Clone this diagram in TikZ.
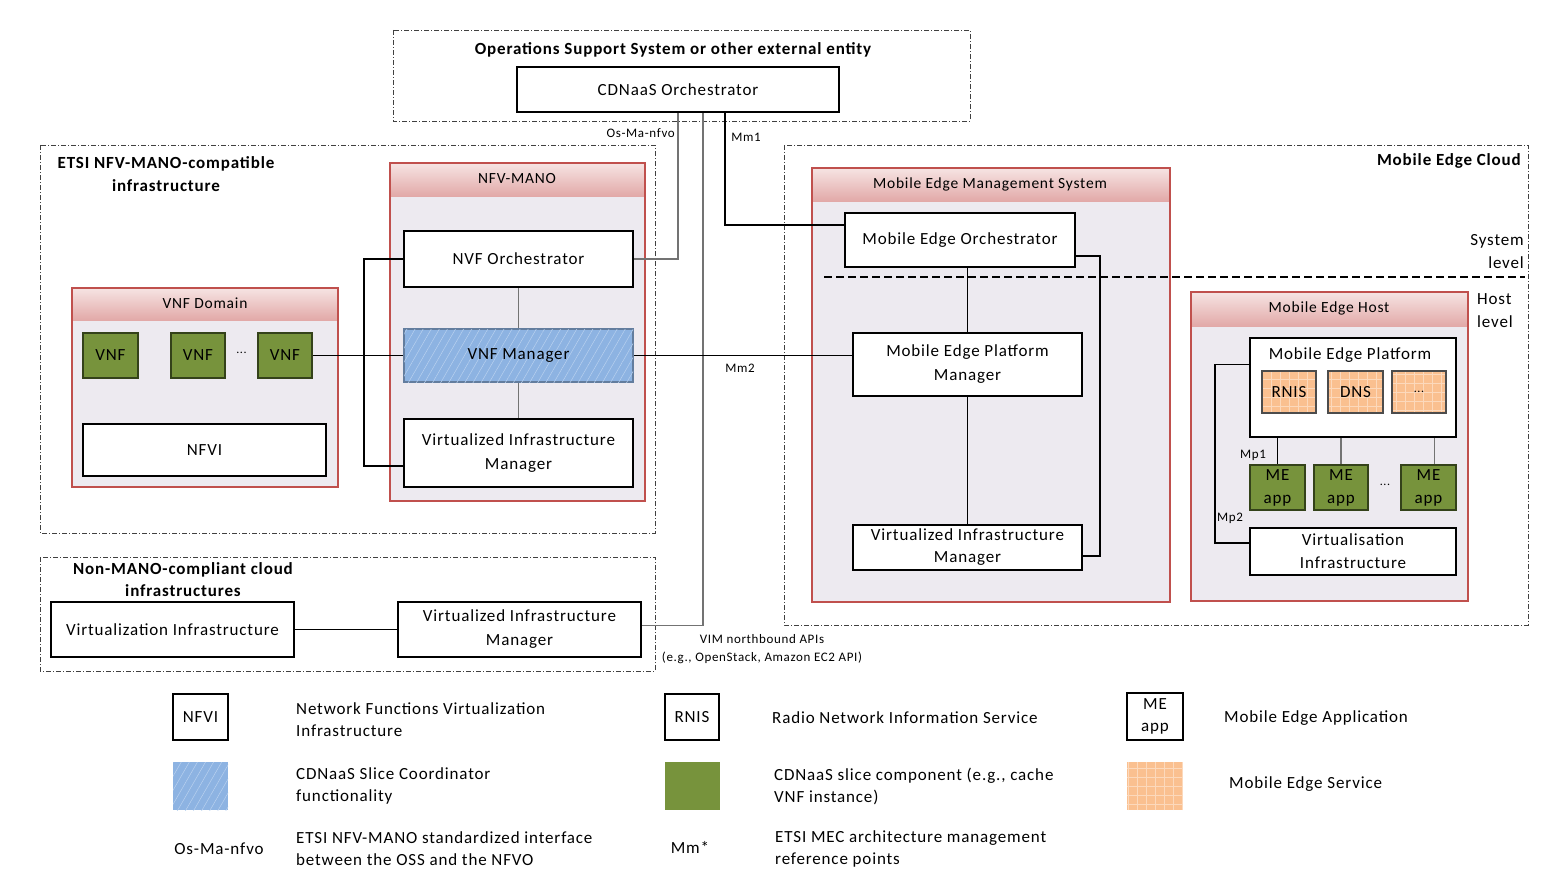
\documentclass[tikz,border=0pt]{standalone}
\usepackage{fontspec}
\setmainfont{Carlito}[LetterSpace=5]
\usetikzlibrary{calc,patterns.meta}
\pgfdeclarelayer{bg}
\pgfdeclarelayer{wires}
\pgfsetlayers{bg,wires,main}
\definecolor{pinktop}{HTML}{F6E4E3}
\definecolor{pinkbot}{HTML}{E2A9A8}
\definecolor{bodyc}{HTML}{EDEAF0}
\definecolor{pinkborder}{HTML}{C0504D}
\definecolor{mygreen}{HTML}{77933C}
\definecolor{greenborder}{HTML}{34421A}
\definecolor{myblue}{HTML}{8DB3E2}
\definecolor{myhatch}{HTML}{B9D1EF}
\definecolor{myorange}{HTML}{FAC090}
\definecolor{orangeline}{HTML}{FCD9BC}
\newcommand\pinkbox[5]{%
  \fill[bodyc] (#1,#2) rectangle (#3,#4);
  \shade[top color=pinktop,bottom color=pinkbot] (#1,#2) rectangle (#3,#5);
  \draw[pinkborder,line width=1.1pt] (#1,#2) rectangle (#3,#4);}
\tikzset{
  mainf/.style={font=\fontsize{17}{24}\selectfont},
  box/.style={draw=black,line width=1.3pt,fill=white,align=center,inner sep=1pt,mainf},
  gbox/.style={draw=greenborder,line width=1.3pt,fill=mygreen,align=center,inner sep=1pt,font=\fontsize{17}{23}\selectfont},
  bluebox/.style={draw=myblue!70!black,line width=1.3pt,fill=myblue,align=center,inner sep=1pt,mainf,
    postaction={pattern={Lines[angle=60,distance=7pt,line width=0.5pt]},pattern color=myhatch}},
  obox/.style={draw=black!70,line width=1.3pt,fill=myorange,align=center,inner sep=1pt,mainf,
    path picture={\draw[orangeline,line width=0.7pt,step=9pt] (path picture bounding box.south west) grid (path picture bounding box.north east);}},
  dashbox/.style={draw=black!75,line width=0.9pt,dash pattern=on 5pt off 2pt on 1pt off 2pt},
  titlef/.style={font=\fontsize{17}{23}\bfseries\selectfont,align=center,inner sep=0pt},
  hdr/.style={font=\fontsize{15.5}{18}\selectfont,inner sep=0pt},
  small/.style={font=\fontsize{13}{18}\selectfont,inner sep=0pt,align=center},
  legtext/.style={font=\fontsize{17}{22}\selectfont,inner sep=0pt,align=left,anchor=west},
  blk/.style={draw=black,line width=1.3pt},
  gry/.style={draw=black!55,line width=1.1pt},
}
\begin{document}
\begin{tikzpicture}[x=1pt,y=-1pt]
\useasboundingbox (0,0) rectangle (1542,880);

% ---------- containers ----------
\begin{pgfonlayer}{bg}
\fill[white] (0,0) rectangle (1542,880);
\draw[dashbox] (393,30) rectangle (970,121);
\draw[dashbox] (40,145) rectangle (655,533);
\draw[dashbox] (40,557) rectangle (655,671);
\draw[dashbox] (784,145) rectangle (1528,625);
\pinkbox{390}{163}{645}{501}{196}
\pinkbox{72}{288}{338}{487}{320}
\pinkbox{812}{168}{1170}{602}{201}
\pinkbox{1191}{292}{1468}{601}{326}
\draw[black,line width=1.4pt,dash pattern=on 8pt off 4pt] (824,277) -- (1525,277);
\end{pgfonlayer}

% ---------- titles ----------
\node[titlef] (osst) at (673,50) {Operations Support System or other external entity};
\node[titlef] (etsit) at (166,174) {ETSI NFV-MANO-compatible\\infrastructure};
\node[titlef,font=\fontsize{17}{22}\bfseries\selectfont] (nmt) at (183,580) {Non-MANO-compliant cloud\\infrastructures};
\node[titlef,anchor=east] (mect) at (1521,161) {Mobile Edge Cloud};
\node[legtext,align=right,anchor=east,font=\fontsize{17}{23}\selectfont] (syslvl) at (1524,252) {System\\level};
\node[legtext,font=\fontsize{17}{23}\selectfont] (hostlvl) at (1477,311) {Host\\level};
\node[hdr] (h1) at (205,303) {VNF Domain};
\node[hdr] (h2) at (517,179) {NFV-MANO};
\node[hdr] (h3) at (990,184) {Mobile Edge Management System};
\node[hdr] (h4) at (1329,308) {Mobile Edge Host};

% ---------- boxes ----------
\node[box,minimum width=322,minimum height=45] (cdnorch) at (678,89.5) {CDNaaS Orchestrator};
\node[box,minimum width=229,minimum height=56] (nfvo) at (518.5,259) {NVF Orchestrator};
\node[bluebox,minimum width=229,minimum height=53] (vnfm) at (518.5,355.5) {VNF Manager};
\node[box,minimum width=229,minimum height=68] (vim1) at (518.5,453) {Virtualized Infrastructure\\Manager};
\node[gbox,minimum width=55,minimum height=45] (vnf1) at (110.5,355.5) {VNF};
\node[gbox,minimum width=54,minimum height=45] (vnf2) at (198,355.5) {VNF};
\node[gbox,minimum width=54,minimum height=45] (vnf3) at (285,355.5) {VNF};
\node[inner sep=0pt,font=\fontsize{12}{14}\selectfont] (vdots) at (241.5,353) {...};
\node[box,minimum width=243,minimum height=52] (nfvi) at (204.5,450) {NFVI};
\node[box,minimum width=243,minimum height=55] (vi2) at (172.5,629.5) {Virtualization Infrastructure};
\node[box,minimum width=243,minimum height=55] (vim2) at (519.5,629.5) {Virtualized Infrastructure\\Manager};
\node[box,minimum width=230,minimum height=54] (meo) at (960,240) {Mobile Edge Orchestrator};
\node[box,minimum width=229,minimum height=63] (mepm) at (967.5,364.5) {Mobile Edge Platform\\Manager};
\node[box,minimum width=229,minimum height=45,font=\fontsize{17}{22}\selectfont] (vim3) at (967.5,547.5) {Virtualized Infrastructure\\Manager};
\node[box,minimum width=206,minimum height=99] (mep) at (1353,387.5) {};
\node[inner sep=0pt,mainf] (meptxt) at (1350,355) {Mobile Edge Platform};
\node[obox,minimum width=54,minimum height=42] (rnis) at (1289,392) {RNIS};
\node[obox,minimum width=55,minimum height=42] (dns) at (1355.5,392) {DNS};
\node[obox,minimum width=54,minimum height=42,font=\fontsize{12}{14}\selectfont] (svc3) at (1419,392) {...};
\node[gbox,minimum width=55,minimum height=45] (app1) at (1277.5,487.5) {ME\\app};
\node[gbox,minimum width=54,minimum height=45] (app2) at (1341,487.5) {ME\\app};
\node[gbox,minimum width=55,minimum height=45] (app3) at (1428.5,487.5) {ME\\app};
\node[inner sep=0pt,font=\fontsize{12}{14}\selectfont] (adots) at (1385,485) {...};
\node[box,minimum width=206,minimum height=47,font=\fontsize{17}{23}\selectfont] (vinf) at (1353,551.5) {Virtualisation\\Infrastructure};

% ---------- connector labels ----------
\node[small,anchor=east] (lbosma) at (675,133) {Os-Ma-nfvo};
\node[small] (lbmm1) at (746,137) {Mm1};
\node[small] (lbmm2) at (740,368) {Mm2};
\node[small] (lbmp1) at (1253,455) {Mp1};
\node[small] (lbmp2) at (1230,518) {Mp2};
\node[small] (lbvim) at (762,649) {VIM northbound APIs\\(e.g., OpenStack, Amazon EC2 API)};

% ---------- connectors ----------
\begin{pgfonlayer}{wires}
\draw[gry] (cdnorch.south -| 678,0) |- (nfvo.east);
\draw[gry] (cdnorch.south -| 703,0) |- ($(vim2.east)+(0,-4)$);
\draw[blk] (cdnorch.south -| 725,0) |- ($(meo.west)+(0,-15)$);
\draw[blk] (vnf3.east) -- (vnfm.west);
\draw[blk] (nfvo.west) -- (364,259) |- ($(vim1.west)+(0,13)$);
\draw[gry] ($(nfvi.east)+(0,-8)$) -- ($(nfvi.east)+(0,-8)$ -| vim1.west);
\draw[gry] (nfvo.south) -- (vnfm.north);
\draw[gry] (vnfm.south) -- (vim1.north);
\draw[blk] (vnfm.east) -- (vnfm.east -| mepm.west);
\draw[blk] (vi2.east) -- (vim2.west);
\draw[blk] (mepm.north |- meo.south) -- (mepm.north);
\draw[blk] (mepm.south) -- (vim3.north);
\draw[blk] ($(meo.east)+(0,16)$) -- (1100,256) |- ($(vim3.east)+(0,8.5)$);
\draw[gry] ($(mepm.east)+(0,-9)$) -- ($(mepm.east)+(0,-9)$ -| mep.west);
\draw[gry] ($(vim3.east)+(0,18)$) -- ($(vim3.east)+(0,18)$ -| vinf.west);
\draw[blk] (app1.north) -- (app1.north |- mep.south);
\draw[gry] (app2.north) -- (app2.north |- mep.south);
\draw[gry] ([xshift=6pt]app3.north) -- ([xshift=6pt]app3.north |- mep.south);
\draw[blk] ($(mep.west)+(0,-23)$) -- (1215,364.5) |- ($(vinf.west)+(0,-8.5)$);
\end{pgfonlayer}

% ---------- legend ----------
\node[box,minimum width=55,minimum height=46] (lgnfvi) at (200.5,717) {NFVI};
\node[legtext] (lgnfvit) at (296,720) {Network Functions Virtualization\\Infrastructure};
\node[bluebox,draw=none,minimum width=55,minimum height=48] (lgblue) at (200.5,786) {};
\node[legtext] (lgbluet) at (296,786) {CDNaaS Slice Coordinator\\functionality};
\node[inner sep=0pt,font=\fontsize{17}{22}\selectfont] (lgos) at (219,849) {Os-Ma-nfvo};
\node[legtext] (lgost) at (296,849) {ETSI NFV-MANO standardized interface\\between the OSS and the NFVO};
\node[box,minimum width=54,minimum height=46] (lgrnis) at (692,717) {RNIS};
\node[legtext] (lgrnist) at (772,718) {Radio Network Information Service};
\node[gbox,draw=none,minimum width=55,minimum height=48] (lggreen) at (692.5,786) {};
\node[legtext] (lggreent) at (774,786) {CDNaaS slice component (e.g., cache\\VNF instance)};
\node[inner sep=0pt,font=\fontsize{17}{22}\selectfont] (lgmm) at (690,847) {Mm*};
\node[legtext] (lgmmt) at (775,849) {ETSI MEC architecture management\\reference points};
\node[box,minimum width=56,minimum height=47,font=\fontsize{17}{22}\selectfont] (lgapp) at (1155,716.5) {ME\\app};
\node[legtext] (lgappt) at (1224,718) {Mobile Edge Application};
\node[obox,draw=none,minimum width=56,minimum height=48] (lgorange) at (1155,786) {};
\node[legtext] (lgoranget) at (1229,784) {Mobile Edge Service};
\end{tikzpicture}
\end{document}
